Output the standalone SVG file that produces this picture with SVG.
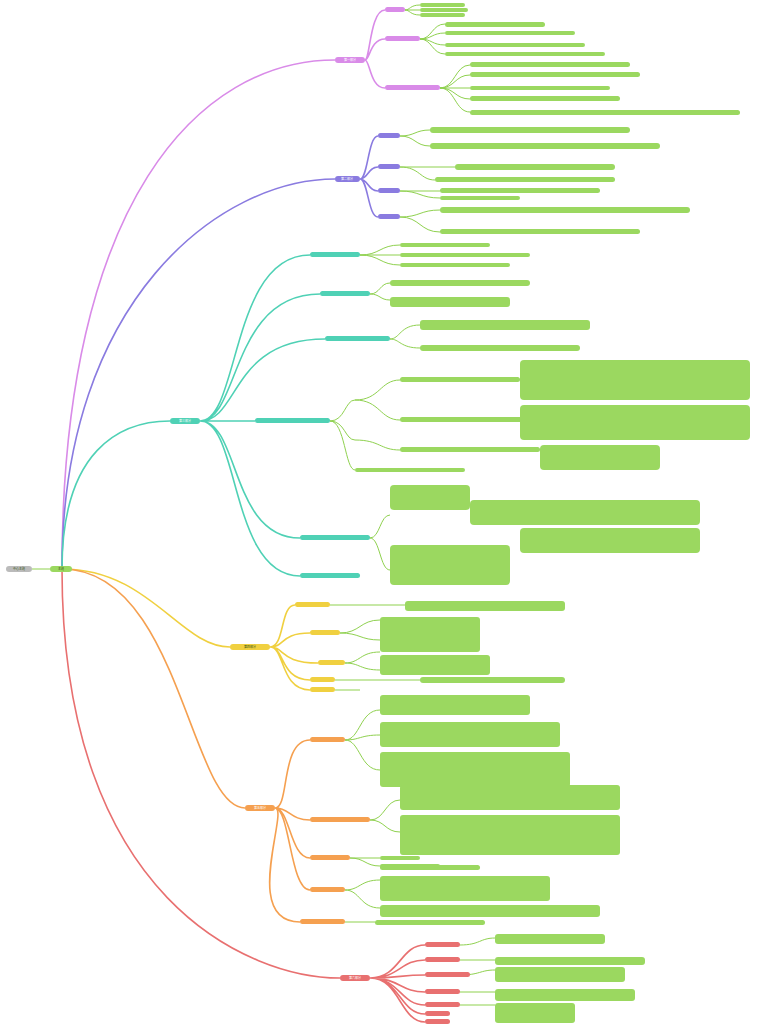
<svg xmlns="http://www.w3.org/2000/svg" width="768" height="1024" viewBox="0 0 768 1024">
<style>
.c{fill:none;stroke-width:1.6}
.l{fill:none;stroke:#8fd14f;stroke-width:1}
.g{fill:#9bd860}
.t{font-family:"Noto Sans CJK SC","Liberation Sans",sans-serif;font-size:3px;fill:#335511}
.w{font-family:"Noto Sans CJK SC","Liberation Sans",sans-serif;font-size:3px;fill:#fff}
</style>
<rect width="768" height="1024" fill="#fff"/>
<g id="connectors">
<path class="c" stroke="#d98be8" d="M62 569 C62 200 200 60 335 60"/>
<path class="c" stroke="#8a7be0" d="M62 569 C62 300 220 179 335 179"/>
<path class="c" stroke="#4fd1b5" d="M62 569 C62 450 120 421 170 421"/>
<path class="c" stroke="#f0d040" d="M62 569 C150 569 180 647 230 647"/>
<path class="c" stroke="#f5a050" d="M62 569 C180 569 190 808 245 808"/>
<path class="c" stroke="#e87070" d="M62 569 C62 900 250 978 340 978"/>
<path class="l" d="M32 569 L50 569"/>
<!-- purple subs -->
<path class="c" stroke="#d98be8" d="M365 60 C370 60 370 10 385 10 M365 60 C370 60 370 39 385 39 M365 60 C370 60 370 88 385 88"/>
<path class="c" stroke="#8a7be0" d="M360 179 C368 179 368 136 378 136 M360 179 C368 179 368 167 378 167 M360 179 C368 179 368 191 378 191 M360 179 C368 179 368 217 378 217"/>
<path class="c" stroke="#4fd1b5" d="M200 421 C240 421 230 255 310 255 M200 421 C240 421 230 294 320 294 M200 421 C240 421 230 339 325 339 M200 421 L255 421 M200 421 C240 421 230 538 300 538 M200 421 C240 421 230 576 300 576"/>
<path class="c" stroke="#f0d040" d="M270 647 C285 647 280 605 295 605 M270 647 C285 647 280 633 310 633 M270 647 C285 647 280 663 318 663 M270 647 C285 647 280 680 310 680 M270 647 C285 647 280 690 310 690"/>
<path class="c" stroke="#f5a050" d="M275 808 C290 808 280 740 310 740 M275 808 C290 808 290 820 310 820 M275 808 C290 808 290 858 310 858 M275 808 C290 808 290 890 310 890 M275 808 C290 808 240 922 300 922"/>
<path class="c" stroke="#e87070" d="M370 978 C400 978 400 945 425 945 M370 978 C400 978 400 960 425 960 M370 978 C400 978 400 975 425 975 M370 978 C400 978 400 992 425 992 M370 978 C400 978 400 1005 425 1005 M370 978 C400 978 400 1014 425 1014 M370 978 C400 978 400 1022 425 1022"/>
<!-- green leaves -->
<path class="l" d="M405 10 C410 10 410 5 420 5 M405 10 L420 10 M405 10 C410 10 410 15 420 15 M420 39 C432 39 432 24 445 24 M420 39 C432 39 432 33 445 33 M420 39 C432 39 432 45 445 45 M420 39 C432 39 432 54 445 54 M440 88 C455 88 455 65 470 65 M440 88 C455 88 455 75 470 75 M440 88 L470 88 M440 88 C455 88 455 99 470 99 M440 88 C455 88 455 112 470 112"/>
<path class="l" d="M400 136 C415 136 415 130 430 130 M400 136 C415 136 415 146 430 146 M400 167 L455 167 M400 167 C420 167 420 180 435 180 M400 191 L440 191 M400 191 C420 191 420 198 440 198 M400 217 C420 217 420 210 440 210 M400 217 C420 217 420 232 440 232"/>
<path class="l" d="M360 255 C380 255 380 245 400 245 M360 255 L400 255 M360 255 C380 255 380 265 400 265 M370 294 C380 294 380 283 390 283 M370 294 C380 294 380 300 390 300 M390 339 C400 339 400 325 420 325 M390 339 C400 339 400 348 420 348 M330 421 C345 421 345 400 355 400 M330 421 C345 421 345 440 355 440 M330 421 C345 421 345 470 355 470 M355 400 C380 400 380 380 400 380 M355 400 C380 400 380 420 400 420 M355 440 C380 440 380 450 400 450 M370 538 C380 538 380 515 390 515 M370 538 C380 538 380 570 390 570"/>
<path class="l" d="M330 605 L405 605 M340 633 C360 633 360 620 380 620 M340 633 C360 633 360 640 380 640 M345 663 C360 663 360 652 380 652 M345 663 C360 663 360 670 380 670 M335 680 L420 680 M335 690 L360 690"/>
<path class="l" d="M345 740 C360 740 360 710 380 710 M345 740 C360 740 360 735 380 735 M345 740 C360 740 360 770 380 770 M370 820 C385 820 385 800 400 800 M370 820 C385 820 385 832 400 832 M350 858 L380 858 M350 858 C365 858 365 866 380 866 M345 890 C360 890 360 880 380 880 M345 890 C360 890 360 908 380 908 M345 922 L375 922"/>
<path class="l" d="M460 945 C480 945 480 938 495 938 M460 960 L495 960 M460 975 C480 975 480 970 495 970 M460 992 L495 992 M460 1005 L495 1005"/>
</g>
<g id="root"><rect x="6" y="566" width="26" height="6" rx="3" fill="#bbb"/><text class="t" x="19" y="570" text-anchor="middle">中心主题</text></g>
<g id="hub"><rect x="50" y="566" width="22" height="6" rx="3" class="g"/><text class="t" x="61" y="570" text-anchor="middle">主题</text></g>
<g id="b1"><rect x="335" y="57" width="30" height="6" rx="3" fill="#d98be8"/><text class="w" x="350" y="61" text-anchor="middle">第一部分</text></g>
<g id="b2"><rect x="335" y="176" width="25" height="6" rx="3" fill="#8a7be0"/><text class="w" x="347" y="180" text-anchor="middle">第二部分</text></g>
<g id="b3"><rect x="170" y="418" width="30" height="6" rx="3" fill="#4fd1b5"/><text class="w" x="185" y="422" text-anchor="middle">第三部分</text></g>
<g id="b4"><rect x="230" y="644" width="40" height="6" rx="3" fill="#f0d040"/><text class="t" x="250" y="648" text-anchor="middle">第四部分</text></g>
<g id="b5"><rect x="245" y="805" width="30" height="6" rx="3" fill="#f5a050"/><text class="w" x="260" y="809" text-anchor="middle">第五部分</text></g>
<g id="b6"><rect x="340" y="975" width="30" height="6" rx="3" fill="#e87070"/><text class="w" x="355" y="979" text-anchor="middle">第六部分</text></g>
<g id="subs">
<rect x="385" y="7" width="20" height="5" rx="2.5" fill="#d98be8"/><rect x="385" y="36" width="35" height="5" rx="2.5" fill="#d98be8"/><rect x="385" y="85" width="55" height="5" rx="2.5" fill="#d98be8"/>
<rect x="378" y="133" width="22" height="5" rx="2.5" fill="#8a7be0"/><rect x="378" y="164" width="22" height="5" rx="2.5" fill="#8a7be0"/><rect x="378" y="188" width="22" height="5" rx="2.5" fill="#8a7be0"/><rect x="378" y="214" width="22" height="5" rx="2.5" fill="#8a7be0"/>
<rect x="310" y="252" width="50" height="5" rx="2.5" fill="#4fd1b5"/><rect x="320" y="291" width="50" height="5" rx="2.5" fill="#4fd1b5"/><rect x="325" y="336" width="65" height="5" rx="2.5" fill="#4fd1b5"/><rect x="255" y="418" width="75" height="5" rx="2.5" fill="#4fd1b5"/><rect x="300" y="535" width="70" height="5" rx="2.5" fill="#4fd1b5"/><rect x="300" y="573" width="60" height="5" rx="2.5" fill="#4fd1b5"/>
<rect x="295" y="602" width="35" height="5" rx="2.5" fill="#f0d040"/><rect x="310" y="630" width="30" height="5" rx="2.5" fill="#f0d040"/><rect x="318" y="660" width="27" height="5" rx="2.5" fill="#f0d040"/><rect x="310" y="677" width="25" height="5" rx="2.5" fill="#f0d040"/><rect x="310" y="687" width="25" height="5" rx="2.5" fill="#f0d040"/>
<rect x="310" y="737" width="35" height="5" rx="2.5" fill="#f5a050"/><rect x="310" y="817" width="60" height="5" rx="2.5" fill="#f5a050"/><rect x="310" y="855" width="40" height="5" rx="2.5" fill="#f5a050"/><rect x="310" y="887" width="35" height="5" rx="2.5" fill="#f5a050"/><rect x="300" y="919" width="45" height="5" rx="2.5" fill="#f5a050"/>
<rect x="425" y="942" width="35" height="5" rx="2.5" fill="#e87070"/><rect x="425" y="957" width="35" height="5" rx="2.5" fill="#e87070"/><rect x="425" y="972" width="45" height="5" rx="2.5" fill="#e87070"/><rect x="425" y="989" width="35" height="5" rx="2.5" fill="#e87070"/><rect x="425" y="1002" width="35" height="5" rx="2.5" fill="#e87070"/><rect x="425" y="1011" width="25" height="5" rx="2.5" fill="#e87070"/><rect x="425" y="1019" width="25" height="5" rx="2.5" fill="#e87070"/>
</g>
<g id="leaves" class="g">
<rect x="420" y="3" width="45" height="4" rx="2"/><rect x="420" y="8" width="48" height="4" rx="2"/><rect x="420" y="13" width="45" height="4" rx="2"/>
<rect x="445" y="22" width="100" height="5" rx="2.5"/><rect x="445" y="31" width="130" height="4" rx="2"/><rect x="445" y="43" width="140" height="4" rx="2"/><rect x="445" y="52" width="160" height="4" rx="2"/>
<rect x="470" y="62" width="160" height="5" rx="2.5"/><rect x="470" y="72" width="170" height="5" rx="2.5"/><rect x="470" y="86" width="140" height="4" rx="2"/><rect x="470" y="96" width="150" height="5" rx="2.5"/><rect x="470" y="110" width="270" height="5" rx="2.5"/>
<rect x="430" y="127" width="200" height="6" rx="3"/><rect x="430" y="143" width="230" height="6" rx="3"/><rect x="455" y="164" width="160" height="6" rx="3"/><rect x="435" y="177" width="180" height="5" rx="2.5"/><rect x="440" y="188" width="160" height="5" rx="2.5"/><rect x="440" y="196" width="80" height="4" rx="2"/><rect x="440" y="207" width="250" height="6" rx="3"/><rect x="440" y="229" width="200" height="5" rx="2.5"/>
<rect x="400" y="243" width="90" height="4" rx="2"/><rect x="400" y="253" width="130" height="4" rx="2"/><rect x="400" y="263" width="110" height="4" rx="2"/>
<rect x="390" y="280" width="140" height="6" rx="3"/><rect x="390" y="297" width="120" height="10" rx="3"/>
<rect x="420" y="320" width="170" height="10" rx="3"/><rect x="420" y="345" width="160" height="6" rx="3"/>
<rect x="400" y="377" width="120" height="5" rx="2.5"/><rect x="400" y="417" width="130" height="5" rx="2.5"/><rect x="400" y="447" width="140" height="5" rx="2.5"/><rect x="355" y="468" width="110" height="4" rx="2"/>
<rect x="520" y="360" width="230" height="40" rx="4"/><rect x="520" y="405" width="230" height="35" rx="4"/><rect x="540" y="445" width="120" height="25" rx="4"/>
<rect x="390" y="485" width="80" height="25" rx="4"/><rect x="470" y="500" width="230" height="25" rx="4"/><rect x="390" y="545" width="120" height="40" rx="4"/><rect x="520" y="528" width="180" height="25" rx="4"/>
<rect x="405" y="601" width="160" height="10" rx="3"/><rect x="380" y="617" width="100" height="35" rx="3"/><rect x="380" y="655" width="110" height="20" rx="3"/><rect x="420" y="677" width="145" height="6" rx="3"/>
<rect x="380" y="695" width="150" height="20" rx="3"/><rect x="380" y="722" width="180" height="25" rx="3"/><rect x="380" y="752" width="190" height="35" rx="3"/>
<rect x="400" y="785" width="220" height="25" rx="3"/><rect x="400" y="815" width="220" height="40" rx="3"/>
<rect x="380" y="856" width="40" height="4" rx="2"/><rect x="380" y="864" width="60" height="4" rx="2"/><rect x="380" y="865" width="100" height="5" rx="2.5"/><rect x="380" y="876" width="170" height="25" rx="3"/><rect x="380" y="905" width="220" height="12" rx="3"/><rect x="375" y="920" width="110" height="5" rx="2.5"/>
<rect x="495" y="934" width="110" height="10" rx="3"/><rect x="495" y="957" width="150" height="8" rx="3"/><rect x="495" y="967" width="130" height="15" rx="3"/><rect x="495" y="989" width="140" height="12" rx="3"/><rect x="495" y="1003" width="80" height="20" rx="3"/>
</g>
</svg>
